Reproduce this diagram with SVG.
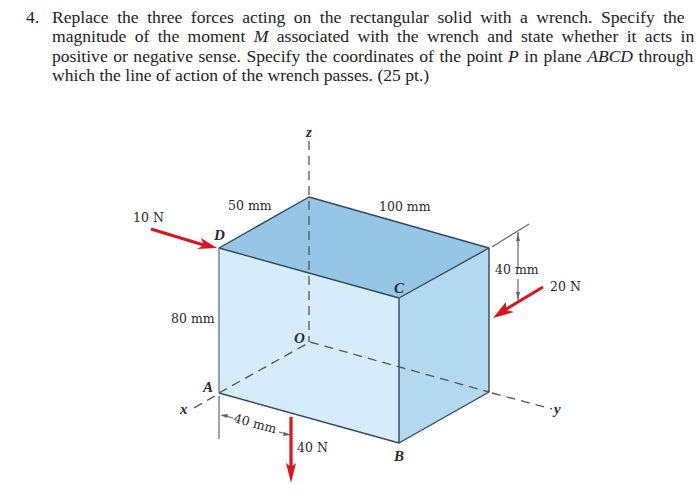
<svg xmlns="http://www.w3.org/2000/svg" width="700" height="500" viewBox="0 0 700 500">
<style>
.p{font-family:"Liberation Serif","Times New Roman",serif;font-size:17.6px;fill:#222}
.l{font-family:"DejaVu Serif","Liberation Serif",serif;font-size:12.5px;fill:#2a2a2a}
.i{font-family:"Liberation Serif",serif;font-size:15px;font-style:italic;font-weight:bold;fill:#2a2a2a}
.e{fill:none;stroke:#33495c;stroke-width:1.4;stroke-linejoin:round}
.d{fill:none;stroke:#555;stroke-width:1.3;stroke-dasharray:9 6}
.t{fill:none;stroke:#666;stroke-width:1.2}
.f{fill:none;stroke:#d9161f;stroke-width:3.2}
.a{fill:#d9161f}
.g{fill:#666}
</style>
<rect width="700" height="500" fill="#fff"/>
<g id="problem-text">
<text class="p" x="26" y="22.5">4.</text>
<text class="p" x="52" y="22.5" word-spacing="4.1">Replace the three forces acting on the rectangular solid with a wrench. Specify the</text>
<text class="p" x="52" y="42" word-spacing="4">magnitude of the moment <tspan font-style="italic">M</tspan> associated with the wrench and state whether it acts in a</text>
<text class="p" x="52" y="62" word-spacing="1.1">positive or negative sense. Specify the coordinates of the point <tspan font-style="italic">P</tspan> in plane <tspan font-style="italic">ABCD</tspan> through</text>
<text class="p" x="52" y="81">which the line of action of the wrench passes. (25 pt.)</text>
</g>
<g id="solid">
<polygon id="face-front" points="219,248 399,298 399,443 219,393" fill="#d7ecfb"/>
<polygon id="face-top" points="219,248 309,197 489,248 399,298" fill="#96c6e5"/>
<polygon id="face-right" points="399,298 489,248 489,392 399,443" fill="#b3d9f0"/>
</g>
<g id="connectors">
<path class="d" d="M309,141V342"/>
<path class="d" d="M310,342L489,392M492,393L552,409"/>
<path class="d" d="M219,393L310,342M215,396L192,409"/>
<path class="e" d="M219,248L309,197L489,248L399,298ZM399,298L489,248V392L399,443ZM399,298V443L219,393"/>
<path d="M219,248V393" fill="none" stroke="#6d7c88" stroke-width="1.4"/>
<path class="t" d="M492,247L529,224M518,232V268M518,279V300M219,396V439"/>
<path class="g" d="M518,233l-2,8h4zM518,300l-2,-8h4z"/>
<path class="t" d="M226,416L233,418M279,432L291,435"/>
<path class="g" d="M220,415l8,-1l-1,4zM291,435l-8,1l1,-4z"/>
<path class="f" d="M151,229L207,246"/>
<path class="a" d="M217,248L197,249L204,245L201,238Z"/>
<path class="f" d="M543,287L503,311"/>
<path class="a" d="M493,318L506,302L506,310L514,312Z"/>
<path class="f" d="M291,417V470"/>
<path class="a" d="M291,483L286,463L291,467L296,463Z"/>
</g>
<g id="labels">
<text class="l" x="133" y="222">10 N</text>
<text class="l" x="228" y="210">50 mm</text>
<text class="l" x="379" y="211">100 mm</text>
<text class="l" x="495" y="274">40 mm</text>
<text class="l" x="550" y="291">20 N</text>
<text class="l" x="171" y="323">80 mm</text>
<text class="l" x="297" y="452">40 N</text>
<text class="l" x="0" y="0" transform="translate(233,422) rotate(15)">40 mm</text>
<text class="i" x="214" y="240">D</text>
<text class="i" x="394" y="293">C</text>
<text class="i" x="203" y="392">A</text>
<text class="i" x="394" y="461">B</text>
<text class="i" x="294" y="343">O</text>
<text class="i" x="306" y="137" font-size="13">z</text>
<text class="i" x="180" y="414" font-size="13">x</text>
<text class="i" x="554" y="414" font-size="14">y</text>
</g>
</svg>
